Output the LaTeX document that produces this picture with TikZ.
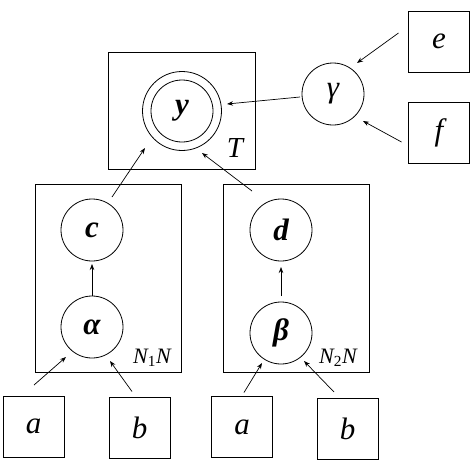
\documentclass[tikz,border=0pt]{standalone}
\usepackage{fontspec}
\setmainfont{Liberation Serif}
\usetikzlibrary{calc,arrows.meta}
\begin{document}
\begin{tikzpicture}[x=1pt,y=-1pt,
  every node/.style={inner sep=0pt,outer sep=0pt},
  var/.style={draw,circle,line width=0.8pt,minimum size=62pt,font=\fontsize{31}{31}\selectfont\bfseries\itshape},
  hyp/.style={draw,rectangle,line width=0.9pt,minimum width=61pt,minimum height=61pt,font=\fontsize{31}{31}\selectfont\itshape},
  plate/.style={draw,rectangle,line width=0.9pt},
  lab/.style={font=\fontsize{22}{22}\selectfont\itshape},
  arr/.style={-{Stealth[length=6pt,width=4.5pt]},line width=0.7pt}]
\useasboundingbox (0,0) rectangle (474,474);
% plates
\node[plate,minimum width=147pt,minimum height=117pt] (pT) at (181.5,110.5) {};
\node[plate,minimum width=146pt,minimum height=188pt] (pL) at (108,278) {};
\node[plate,minimum width=146pt,minimum height=188pt] (pR) at (296,278) {};
% y
\node[draw,circle,line width=0.8pt,minimum size=79pt] (y) at (182,111) {};
\node[var] (yi) at (182,111) {y};
\node[font=\fontsize{29}{29}\selectfont\itshape] (T) at (235,148) {T};
% gamma and its hyper-parameters
\node[var,font=\fontsize{31}{31}\selectfont\itshape] (g) at (333,94) {γ};
\node[hyp] (e) at (439,41.5) {e};
\node[hyp] (f) at (439,133) {f};
% left
\node[var] (c) at (92,230) {c};
\node[var] (al) at (92,327) {α};
\node[lab] (n1) at (152,358) {N\textsubscript{\upshape 1}N};
\node[hyp] (a1) at (33.5,426.5) {a};
\node[hyp] (b1) at (139.5,428) {b};
% right
\node[var] (d) at (281,230) {d};
\node[var] (be) at (281,333) {β};
\node[lab] (n2) at (338,358) {N\textsubscript{\upshape 2}N};
\node[hyp] (a2) at (242,427) {a};
\node[hyp] (b2) at (347.5,428.5) {b};
% arrows
\draw[arr] ($(a1.north)+(0.5,-11)$) -- ($(al.center)+(-26,30)$);
\draw[arr] ($(b1.north)+(-7.5,-6)$) -- ($(al.center)+(18,34)$);
\draw[arr] (al.north) -- ($(c.south)+(0,3)$);
\draw[arr] ($(c.center)+(20,-33)$) -- ($(y.center)+(-37,37)$);
\draw[arr] ($(a2.north)+(2,-4)$) -- ($(be.center)+(-19,30)$);
\draw[arr] ($(b2.north)+(-13.5,-6)$) -- ($(be.center)+(23,28)$);
\draw[arr] ($(be.north)+(0,-6)$) -- ($(d.south)+(0,6)$);
\draw[arr] ($(d.center)+(-29,-39)$) -- ($(y.center)+(20,42)$);
\draw[arr] ($(g.center)+(-33,3)$) -- ($(y.center)+(45,-7)$);
\draw[arr] ($(e.west)+(-10,-8.5)$) -- ($(g.center)+(24,-31)$);
\draw[arr] ($(f.west)+(-7,9)$) -- ($(g.center)+(30,27)$);
\end{tikzpicture}
\end{document}
